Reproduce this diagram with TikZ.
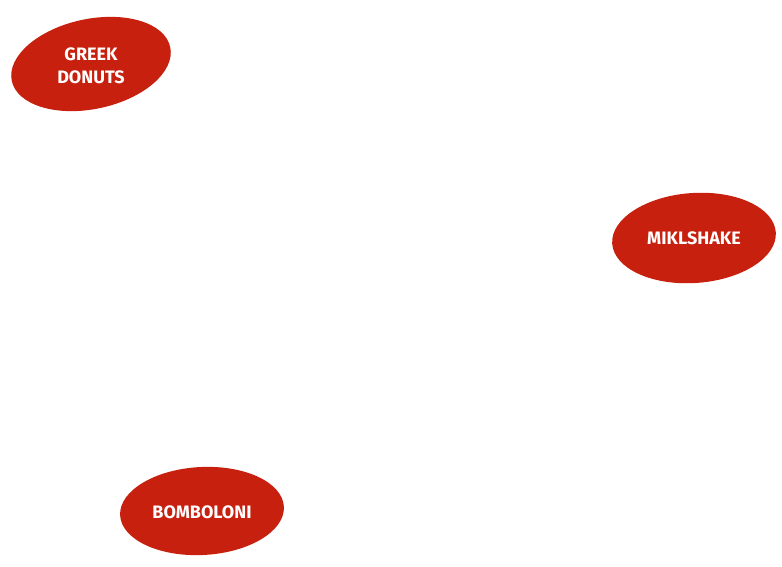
\documentclass[tikz,border=0pt]{standalone}
\usepackage{fontspec}
\setmainfont{Fira Sans}
\definecolor{dred}{HTML}{C8200E}
\begin{document}
\begin{tikzpicture}[x=1pt,y=-1pt,
  blob/.style={fill=dred},
  lbl/.style={text=white,font=\fontsize{18}{23}\selectfont\bfseries,align=center}]
\useasboundingbox (0,0) rectangle (782,567);
\fill[blob,rotate around={12:(91,64)}] (91,64) ellipse [x radius=81, y radius=45];
\node[lbl] (greek) at (91,66) {GREEK\\DONUTS};
\fill[blob,rotate around={4:(694,238)}] (694,238) ellipse [x radius=82, y radius=45];
\node[lbl] (milk) at (694,238) {MIKLSHAKE};
\fill[blob,rotate around={3:(202,511)}] (202,511) ellipse [x radius=82, y radius=44];
\node[lbl] (bomb) at (202,512) {BOMBOLONI};
\end{tikzpicture}
\end{document}
